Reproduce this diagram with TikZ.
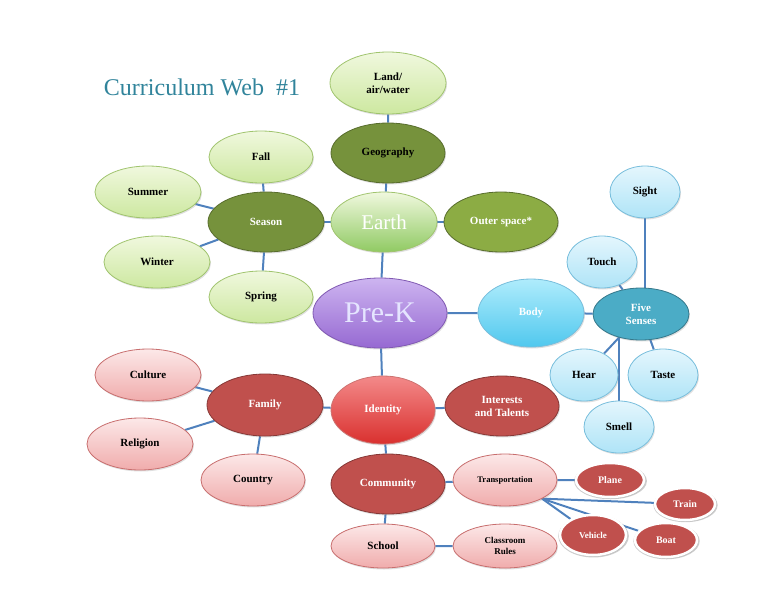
\documentclass[tikz,border=0pt]{standalone}
\usepackage{fontspec}
\setmainfont{Liberation Serif}
\usetikzlibrary{shapes.geometric, shadows, backgrounds}
\definecolor{titleteal}{RGB}{49,132,155}
\definecolor{linkblue}{RGB}{79,129,189}
\definecolor{greentop}{RGB}{240,248,222}
\definecolor{greenbot}{RGB}{205,232,160}
\definecolor{greenline}{RGB}{160,196,110}
\definecolor{greendark}{RGB}{118,146,60}
\definecolor{greenmid}{RGB}{140,172,68}
\definecolor{bluetop}{RGB}{228,246,253}
\definecolor{bluebot}{RGB}{175,228,247}
\definecolor{blueline}{RGB}{120,190,220}
\definecolor{bluedark}{RGB}{75,172,198}
\definecolor{pinktop}{RGB}{252,232,232}
\definecolor{pinkbot}{RGB}{240,172,172}
\definecolor{pinkline}{RGB}{200,110,110}
\definecolor{reddark}{RGB}{192,80,77}
\definecolor{prektop}{RGB}{205,180,240}
\definecolor{prekbot}{RGB}{150,105,210}
\definecolor{bodytop}{RGB}{175,236,252}
\definecolor{bodybot}{RGB}{80,200,238}

\tikzset{
  bubble/.style={ellipse, inner sep=0pt, align=center, line width=0.8pt,
                 font=\bfseries\fontsize{11}{13}\selectfont,
                 drop shadow={shadow xshift=1pt, shadow yshift=-1.5pt, opacity=0.25}},
  greenleaf/.style={bubble, draw=greenline, top color=greentop, bottom color=greenbot},
  greenhub/.style={bubble, draw=greendark!75!black, fill=greendark},
  blueleaf/.style={bubble, draw=blueline, top color=bluetop, bottom color=bluebot},
  pinkleaf/.style={bubble, draw=pinkline, top color=pinktop, bottom color=pinkbot},
  redhub/.style={bubble, draw=reddark!70!black, fill=reddark, text=white},
  redchip/.style={bubble, draw=white, line width=2.5pt, fill=reddark, text=white,
                  font=\bfseries\fontsize{10}{12}\selectfont,
                  drop shadow={shadow scale=1.07, shadow xshift=0.5pt, shadow yshift=-1pt, opacity=0.4}},
  link/.style={draw=linkblue, line width=2pt},
}

\begin{document}
\begin{tikzpicture}[x=1pt, y=-1pt]
\useasboundingbox (0,0) rectangle (768,594);

\node[text=titleteal, font=\fontsize{24}{27}\selectfont] (title) at (202,87) {Curriculum Web\ \ \#1};

% centre
\node[bubble, draw=prekbot!85!black, top color=prektop, bottom color=prekbot,
      text=white!90!blue, font=\fontsize{30}{32}\selectfont, minimum width=134, minimum height=70] (prek) at (380,313) {Pre-K};

% earth branch
\node[bubble, draw=greenline, top color=greentop, bottom color=greenline!90!green,
      text=white, font=\fontsize{21}{24}\selectfont, minimum width=106, minimum height=60] (earth) at (384,222) {Earth};
\node[greenhub, minimum width=114, minimum height=60] (geo) at (388,153) {Geography};
\node[greenleaf, minimum width=116, minimum height=62] (land) at (388,83) {Land/\\air/water};
\node[greenhub, fill=greenmid, text=white, minimum width=114, minimum height=60] (outer) at (501,222) {Outer space*};
\node[greenhub, text=white, minimum width=116, minimum height=60] (season) at (266,222) {Season};
\node[greenleaf, minimum width=104, minimum height=52] (fall) at (261,157) {Fall};
\node[greenleaf, minimum width=106, minimum height=52] (summer) at (148,192) {Summer};
\node[greenleaf, minimum width=106, minimum height=52] (winter) at (157,262) {Winter};
\node[greenleaf, minimum width=104, minimum height=52] (spring) at (261,297) {Spring};

% body branch
\node[bubble, draw=blueline, top color=bodytop, bottom color=bodybot,
      text=white, minimum width=106, minimum height=68] (body) at (531,313) {Body};
\node[bubble, draw=bluedark!70!black, fill=bluedark, text=white, minimum width=96, minimum height=52] (five) at (641,314) {Five\\Senses};
\node[blueleaf, minimum width=70, minimum height=52] (sight) at (645,192) {Sight};
\node[blueleaf, minimum width=70, minimum height=52] (touch) at (602,262) {Touch};
\node[blueleaf, minimum width=68, minimum height=52] (hear) at (584,375) {Hear};
\node[blueleaf, minimum width=70, minimum height=52] (taste) at (663,375) {Taste};
\node[blueleaf, minimum width=70, minimum height=52] (smell) at (619,427) {Smell};

% identity branch
\node[bubble, draw=reddark!80, top color=pinkbot!80!red, bottom color=reddark!60!red,
      text=white, minimum width=104, minimum height=68] (identity) at (383,410) {Identity};
\node[redhub, minimum width=114, minimum height=60] (talents) at (502,406) {Interests\\and Talents};
\node[redhub, minimum width=116, minimum height=62] (family) at (265,405) {Family};
\node[pinkleaf, minimum width=106, minimum height=52] (culture) at (148,375) {Culture};
\node[pinkleaf, minimum width=106, minimum height=52] (religion) at (140,444) {Religion};
\node[pinkleaf, minimum width=104, minimum height=52] (country) at (253,480) {Country};
\node[redhub, minimum width=114, minimum height=60] (community) at (388,484) {Community};
\node[pinkleaf, font=\bfseries\fontsize{8.5}{10}\selectfont, minimum width=104, minimum height=52] (trans) at (505,480) {Transportation};
\node[pinkleaf, minimum width=104, minimum height=44] (school) at (383,546) {School};
\node[pinkleaf, font=\bfseries\fontsize{9}{11}\selectfont, minimum width=104, minimum height=44] (rules) at (505,546) {Classroom\\Rules};
\node[redchip, minimum width=68, minimum height=34] (plane) at (610,480) {Plane};
\node[redchip, minimum width=60, minimum height=32] (train) at (685,504) {Train};
\node[redchip, font=\bfseries\fontsize{9}{11}\selectfont, minimum width=66, minimum height=40] (vehicle) at (593,535) {Vehicle};
\node[redchip, minimum width=62, minimum height=34] (boat) at (666,540) {Boat};

% connectors
\begin{scope}[on background layer]
  \draw[link] (land) -- (geo) -- (earth) -- (prek);
  \draw[link] (season) -- (earth) -- (outer);
  \foreach \n in {fall,summer,winter,spring} \draw[link] (season) -- (\n);
  \draw[link] (prek) -- (body) -- (five);
  \draw[link] (sight) -- (sight |- five);
  \draw[link] (smell) -- (smell |- five);
  \foreach \n in {touch,hear,taste} \draw[link] (five) -- (\n);
  \draw[link] (prek) -- (identity) -- (community) -- (school) -- (rules);
  \draw[link] (family) -- (identity) -- (talents);
  \foreach \n in {culture,religion,country} \draw[link] (family) -- (\n);
  \draw[link] (community) -- (trans) -- (plane);
  \foreach \n in {train,vehicle,boat} \draw[link] (trans.south east) -- (\n);
\end{scope}
\end{tikzpicture}
\end{document}
